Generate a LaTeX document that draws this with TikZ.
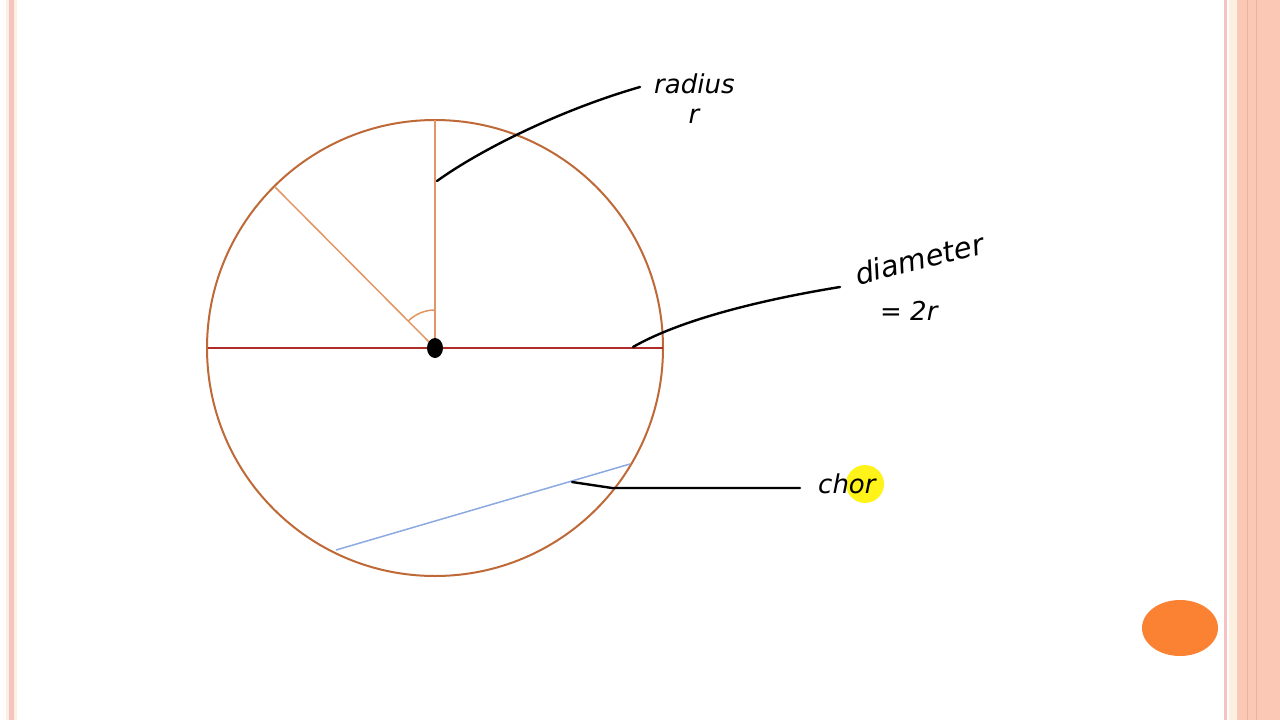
\documentclass[tikz,border=0pt]{standalone}
\usepackage{fontspec}
\setmainfont{DejaVu Sans}
\usetikzlibrary{calc}
\definecolor{circc}{RGB}{190,105,55}
\definecolor{radc}{RGB}{225,150,100}
\definecolor{diamc}{RGB}{175,45,40}
\definecolor{chordc}{RGB}{140,170,225}
\definecolor{salmon}{RGB}{250,200,180}
\definecolor{salmonline}{RGB}{235,180,160}
\definecolor{pinkl}{RGB}{245,195,195}
\definecolor{creaml}{RGB}{253,240,225}
\definecolor{dotorange}{RGB}{250,130,50}
\begin{document}
\begin{tikzpicture}[x=1pt,y=-1pt,
  circ/.style={draw=circc, line width=2pt},
  rad/.style={draw=radc, line width=1.5pt},
  leader/.style={draw=black, line width=2.4pt, line cap=round},
  hand/.style={font=\itshape\fontsize{26}{28}\selectfont, text=black, inner sep=0pt}]
\useasboundingbox (0,0) rectangle (1280,720);
\fill[white] (0,0) rectangle (1280,720);
% borders
\fill[creaml] (6,0) rectangle (17,720);
\fill[pinkl] (9,0) rectangle (14,720);
\fill[pinkl] (1224,0) rectangle (1227,720);
\fill[creaml] (1229,0) rectangle (1237,720);
\fill[salmon] (1237,0) rectangle (1280,720);
\draw[salmonline, line width=1pt] (1247,0) -- (1247,720);
\draw[salmonline, line width=1pt] (1256,0) -- (1256,720);
% orange ellipse
\fill[dotorange] (1180,628) ellipse [x radius=38, y radius=28];
% circle
\coordinate (O) at (435,348);
\coordinate (T) at (435,120);
\coordinate (D) at (275,187);
\coordinate (L) at (208,348);
\coordinate (R) at (663,348);
\coordinate (C1) at (336,550);
\coordinate (C2) at (630,464);
\draw[circ] (O) circle [radius=228];
\draw[rad] (O) -- (T);
\draw[rad] (O) -- (D);
\draw[rad] ($(O)+(0,-38)$) arc [start angle=-90, end angle=-135, radius=38];
\draw[draw=diamc, line width=2.4pt] (L) -- (R);
\draw[draw=chordc, line width=1.5pt] (C1) -- (C2);
\fill[black] (O) ellipse [x radius=8, y radius=10];
% labels
\node[hand, anchor=west] (radius) at (654,84) {radius};
\node[hand] (rr) at (694,116) {r};
\node[hand, rotate=14, anchor=south west, font=\itshape\fontsize{29}{30}\selectfont] (diam) at (858,286) {diameter};
\node[hand, anchor=west] (eq) at (880,311) {= 2r};
\fill[yellow, opacity=0.9] (865,484) circle [radius=19];
\node[hand, anchor=west] (chord) at (818,484) {chor};
% leaders
\coordinate (r0) at (437,181);
\coordinate (r1) at (640,87);
\coordinate (d0) at (633,347);
\coordinate (d1) at (840,287);
\coordinate (c0) at (572,482);
\coordinate (c1) at (612,488);
\coordinate (c2) at (800,488);
\draw[leader] (r0) .. controls (480,150) and (560,110) .. (r1);
\draw[leader] (d0) .. controls (680,320) and (760,300) .. (d1);
\draw[leader] (c0) -- (c1) -- (c2);
\end{tikzpicture}
\end{document}
